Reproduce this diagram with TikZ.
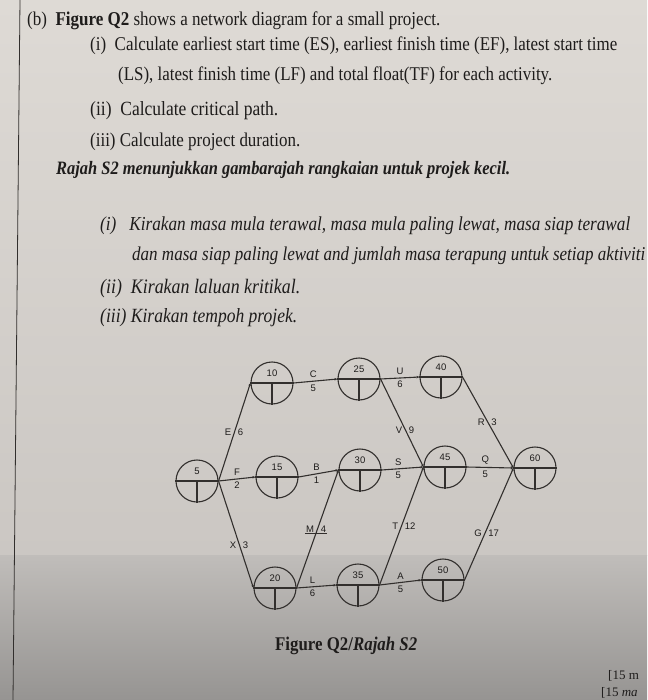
\documentclass[tikz,border=0pt]{standalone}
\usepackage{fontspec}
\usepackage{graphicx}
\setmainfont{Liberation Serif}
\newfontfamily\diagfont{Liberation Sans}
\usetikzlibrary{arrows.meta}
\definecolor{paperT}{RGB}{222,218,213}
\definecolor{paperM}{RGB}{203,199,195}
\definecolor{paperL}{RGB}{192,189,186}
\definecolor{paperB}{RGB}{150,148,146}
\definecolor{ink}{RGB}{30,28,27}
\definecolor{lineink}{RGB}{50,47,45}
\newcommand{\pline}[2]{\scalebox{1}[1.15]{\resizebox{#1}{!}{#2}}}
\begin{document}
\begin{tikzpicture}[x=1pt,y=-1pt,
  evt/.style={circle,draw=lineink,line width=1.1pt,minimum size=42pt,inner sep=0pt},
  num/.style={font=\diagfont\fontsize{9.5}{10}\selectfont,text=ink,inner sep=0pt},
  edge/.style={draw=lineink,line width=1.1pt,-{Stealth[length=3pt,width=2.5pt]}},
  lab/.style={font=\diagfont\fontsize{9.5}{10}\selectfont,text=ink,inner sep=2.8pt},
  txt/.style={anchor=west,inner sep=0pt,text=ink}
]
\useasboundingbox (0,0) rectangle (647,700);
\shade[top color=paperT,bottom color=paperM] (0,0) rectangle (647,555);
\shade[top color=paperL,bottom color=paperB] (0,555) rectangle (647,700);
\draw[lineink,line width=0.8pt] (20,0) -- (13,700);

% page text
\node[txt] at (27,21) {\pline{413pt}{(b)\ \ \textbf{Figure Q2} shows a network diagram for a small project.}};
\node[txt] at (90,46) {\pline{527pt}{(i)\ \ Calculate earliest start time (ES), earliest finish time (EF), latest start time}};
\node[txt] at (118,76) {\pline{434pt}{(LS), latest finish time (LF) and total float(TF) for each activity.}};
\node[txt] at (90,111) {\pline{188pt}{(ii)\ \ Calculate critical path.}};
\node[txt] at (90,142) {\pline{210pt}{(iii) Calculate project duration.}};
\node[txt] at (56,170) {\pline{454pt}{\bfseries\itshape Rajah S2 menunjukkan gambarajah rangkaian untuk projek kecil.}};
\node[txt] at (100,226) {\pline{530pt}{\itshape (i)\ \ \ Kirakan masa mula terawal, masa mula paling lewat, masa siap terawal}};
\node[txt] at (132,256) {\pline{513pt}{\itshape dan masa siap paling lewat and jumlah masa terapung untuk setiap aktiviti}};
\node[txt] at (100,289) {\pline{200pt}{\itshape (ii)\ \ Kirakan laluan kritikal.}};
\node[txt] at (100,318) {\pline{197pt}{\itshape (iii) Kirakan tempoh projek.}};
\node[txt] at (275,646) {\pline{142pt}{\textbf{Figure Q2/}\textbf{\itshape Rajah S2}}};
\node[txt,font=\fontsize{13}{14}\selectfont] at (608,676) {[15 m};
\node[txt,font=\fontsize{13}{14}\selectfont] at (601,693) {[15 \textit{ma}};

% events
\foreach \n/\x/\y in {5/197/481, 10/272/383, 25/359/379, 40/441/377, 15/277/477, 30/360/470, 45/445/467, 60/535/468, 20/275/588, 35/358/585, 50/443/580}{
  \node[evt] (n\n) at (\x,\y) {};
  \draw[lineink,line width=1.1pt] (n\n.west) -- (n\n.east) (n\n.center) -- (n\n.south);
  \node[num] at ([yshift=10pt]n\n.center) {\n};
}

% activities
\draw[edge] (n5.east) -- node[pos=.5,lab,left]{E} node[pos=.5,lab,right]{6} (n10.west);
\draw[edge] (n5.east) -- node[pos=.5,lab,above]{F} node[pos=.5,lab,below]{2} (n15.west);
\draw[edge] (n5.east) -- node[pos=.6,lab,left]{X} node[pos=.6,lab,right]{3} (n20.west);
\draw[edge] (n10.east) -- node[pos=.45,lab,above]{C} node[pos=.45,lab,below]{5} (n25.west);
\draw[edge] (n15.east) -- node[pos=.45,lab,above]{B} node[pos=.45,lab,below]{1} (n30.west);
\draw[edge] (n20.east) -- node[pos=.5,lab,left] (lm) {M} node[pos=.5,lab,right] (l4) {4} (n30.west);
\draw[lineink,line width=0.6pt] ([xshift=2pt,yshift=2pt]lm.south west) -- ([xshift=-2pt,yshift=2pt]l4.south east);
\draw[edge] (n20.east) -- node[pos=.4,lab,above]{L} node[pos=.4,lab,below]{6} (n35.west);
\draw[edge] (n25.east) -- node[pos=.5,lab,above]{U} node[pos=.5,lab,below]{6} (n40.west);
\draw[edge] (n25.east) -- node[pos=.58,lab,left]{V} node[pos=.58,lab,right]{9} (n45.west);
\draw[edge] (n30.east) -- node[pos=.4,lab,above]{S} node[pos=.4,lab,below]{5} (n45.west);
\draw[edge] (n35.east) -- node[pos=.5,lab,left]{T} node[pos=.5,lab,right]{12} (n45.west);
\draw[edge] (n35.east) -- node[pos=.5,lab,above]{A} node[pos=.5,lab,below]{5} (n50.west);
\draw[edge] (n40.east) -- node[pos=.5,lab,left]{R} node[pos=.5,lab,right]{3} (n60.west);
\draw[edge] (n45.east) -- node[pos=.4,lab,above]{Q} node[pos=.4,lab,below]{5} (n60.west);
\draw[edge] (n50.east) -- node[pos=.42,lab,left]{G} node[pos=.42,lab,right]{17} (n60.west);
\end{tikzpicture}
\end{document}
